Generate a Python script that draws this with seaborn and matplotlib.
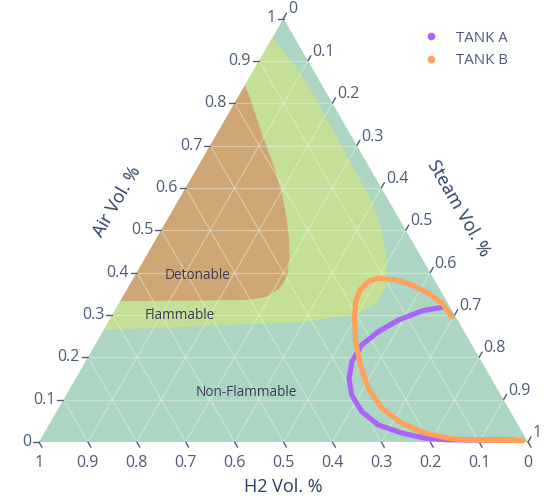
import numpy as np
import pandas as pd
import matplotlib
matplotlib.use("Agg")
import matplotlib.pyplot as plt
import seaborn as sns
from matplotlib.lines import Line2D

# ternary axis ticks
tick_vals = [0, 0.1, 0.2, 0.3, 0.4, 0.5, 0.6, 0.7, 0.8, 0.9, 1]
tick_labels = ["0", "0.1", "0.2", "0.3", "0.4", "0.5", "0.6", "0.7", "0.8", "0.9", "1"]

# Flammable region boundary (air / H2 fraction, steam = rest)
flam_air = [0.956, 0.873, 0.808, 0.760, 0.682, 0.619, 0.571, 0.516, 0.461, 0.414, 0.359, 0.328, 0.312,
            0.300, 0.283, 0.274, 0.264]
flam_h2 = [0.044, 0.030, 0.028, 0.030, 0.031, 0.034, 0.034, 0.045, 0.062, 0.081, 0.113, 0.146, 0.174,
           0.214, 0.325, 0.534, 0.736]

# Detonable region boundary
det_air = [0.843, 0.800, 0.753, 0.697, 0.642, 0.587, 0.532, 0.477, 0.430, 0.390, 0.363, 0.343, 0.336,
           0.334, 0.333]
det_h2 = [0.157, 0.165, 0.175, 0.186, 0.196, 0.210, 0.228, 0.250, 0.273, 0.298, 0.326, 0.363, 0.400,
          0.505, 0.667]

# tank trajectories (air / steam fraction)
tank_a_air = [0.318, 0.310, 0.288, 0.261, 0.229, 0.190, 0.150, 0.111, 0.072, 0.040, 0.021, 0.009,
              0.005, 0.004]
tank_a_steam = [0.666, 0.629, 0.591, 0.564, 0.545, 0.545, 0.559, 0.584, 0.624, 0.674, 0.732, 0.785,
                0.835, 0.970]

tank_b_air = [0.296, 0.328, 0.351, 0.371, 0.383, 0.387, 0.379, 0.359, 0.331, 0.292, 0.237, 0.182,
              0.127, 0.080, 0.044, 0.021, 0.009, 0.005, 0.003]
tank_b_steam = [0.696, 0.660, 0.621, 0.577, 0.537, 0.501, 0.484, 0.477, 0.482, 0.499, 0.529, 0.566,
                0.610, 0.661, 0.720, 0.779, 0.833, 0.869, 0.988]

S3 = np.sqrt(3) / 2


def tern(air, steam):
    # H2 at bottom-left, Air at top, Steam at bottom-right
    air = np.asarray(air, dtype=float)
    steam = np.asarray(steam, dtype=float)
    return steam + air / 2, air * S3


sns.set_theme(style="white")
plt.rcParams["font.family"] = ["Open Sans", "DejaVu Sans"]

fig = plt.figure(figsize=(5.5, 5), dpi=100)
ax = fig.add_axes([39 / 550, 58 / 500, 489 / 550, 423.5 / 500])
px = 1 / 489  # one pixel in data units

# whole triangle = non-flammable
ax.fill([0, 1, 0.5], [0, 0, S3], color="#acd6c3", lw=0)

fx, fy = tern(flam_air, 1 - np.array(flam_air) - np.array(flam_h2))
ax.fill(fx, fy, color="#c4df96", lw=0)
dx, dy = tern(det_air, 1 - np.array(det_air) - np.array(det_h2))
ax.fill(dx, dy, color="#cea676", lw=0)

# grid
for v in tick_vals[1:-1]:
    for p, q in [(tern(v, 0), tern(v, 1 - v)), (tern(0, v), tern(1 - v, v)), (tern(0, 1 - v), tern(1 - v, 0))]:
        ax.plot([p[0], q[0]], [p[1], q[1]], color="#f4f8e6", lw=0.9, alpha=0.4)

tick_col = "#4d5b75"
for v, lab in zip(tick_vals, tick_labels):
    # Air (left)
    x0, y0 = tern(v, 0)
    ax.plot([x0, x0 - 6 * px], [y0, y0], color=tick_col, lw=1, clip_on=False)
    ax.text(x0 - 8 * px, y0, lab, ha="right", va="center", fontsize=11.5, color=tick_col)
    # H2 (bottom)
    x0, y0 = tern(0, 1 - v)
    ax.plot([x0, x0 + 3 * px], [y0, y0 - 5.2 * px], color=tick_col, lw=1, clip_on=False)
    ax.text(x0, y0 - 21 * px, lab, ha="center", va="center", fontsize=11.5, color=tick_col)
    # Steam (right)
    x0, y0 = tern(1 - v, v)
    ax.plot([x0, x0 + 3 * px], [y0, y0 + 5.2 * px], color=tick_col, lw=1, clip_on=False)
    ax.text(x0 + 4.5 * px, y0 + 9 * px, lab, ha="left", va="center", fontsize=11.5, color=tick_col)

# tank curves
ax_, ay_ = tern(tank_a_air, tank_a_steam)
bx_, by_ = tern(tank_b_air, tank_b_steam)
df_a = pd.DataFrame({"x": ax_, "y": ay_})
df_b = pd.DataFrame({"x": bx_, "y": by_})
sns.lineplot(data=df_a, x="x", y="y", sort=False, estimator=None, color="#ab63fa", lw=3.7,
             ax=ax, legend=False, clip_on=False, solid_joinstyle="round", solid_capstyle="round")
sns.lineplot(data=df_b, x="x", y="y", sort=False, estimator=None, color="#ffa15a", lw=3.7,
             ax=ax, legend=False, clip_on=False, solid_joinstyle="round", solid_capstyle="round")
ax.set_xlim(0, 1)
ax.set_ylim(0, S3)
ax.axis("off")

# region labels
lab_col = "#3d3a55"
for text, a, s in [("Detonable", 0.392, 0.129), ("Flammable", 0.298, 0.139), ("Non-Flammable", 0.116, 0.365)]:
    tx, ty = tern(a, s)
    ax.text(tx, ty, text, ha="center", va="center", fontsize=9.8, color=lab_col)

title_col = "#2a3f5f"
fig.text(117 / 550, 1 - 202 / 500, "Air Vol. %", rotation=60, ha="center", va="center",
         fontsize=13, color=title_col, rotation_mode="anchor")
fig.text(458 / 550, 1 - 208 / 500, "Steam Vol. %", rotation=-60, ha="center", va="center",
         fontsize=13, color=title_col, rotation_mode="anchor")
fig.text(283 / 550, 1 - 487 / 500, "H2 Vol. %", ha="center", va="center", fontsize=13, color=title_col)

handles = [Line2D([], [], marker="o", ls="", color="#ab63fa", markersize=4.5),
           Line2D([], [], marker="o", ls="", color="#ffa15a", markersize=4.5)]
fig.legend(handles, ["TANK A", "TANK B"], loc="upper left", bbox_to_anchor=(402 / 550, 1 - 17 / 500),
           frameon=False, fontsize=10.8, handletextpad=0.7, labelspacing=0.5, labelcolor=tick_col)

fig.savefig("out.png", dpi=100)
